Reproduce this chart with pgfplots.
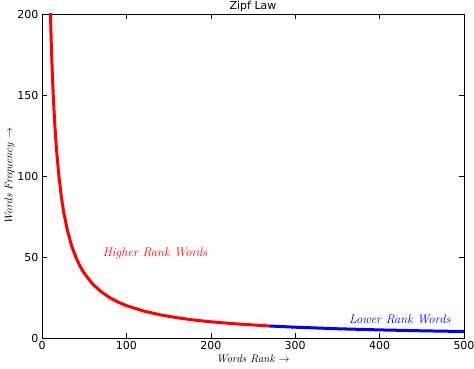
\documentclass[border=0pt]{standalone}
\usepackage{pgfplots}
\pgfplotsset{compat=1.18}
\usepackage{fontspec}
\setmainfont{DejaVu Sans}
\newfontfamily\serifit{Latin Modern Roman}
\begin{document}
\begin{tikzpicture}
\begin{axis}[name=ax,
  scale only axis, width=422pt, height=324pt,
  xmin=0, xmax=500, ymin=0, ymax=200,
  xtick={0,100,200,300,400,500},
  ytick={0,50,100,150,200},
  tick align=inside, tick pos=both,
  major tick length=5pt,
  tick style={black, line width=0.6pt},
  axis line style={black, line width=0.9pt},
  /pgf/number format/assume math mode=true,
  ticklabel style={font=\fontsize{11}{12}\selectfont},
  title={Zipf Law},
  title style={font=\fontsize{11}{12}\selectfont, yshift=-7pt},
  xlabel={\serifit\itshape Words Rank $\rightarrow$},
  ylabel={\serifit\itshape Words Frequency $\rightarrow$},
  xlabel style={font=\fontsize{11}{12}\selectfont, yshift=2pt},
  ylabel style={font=\fontsize{11}{12}\selectfont, yshift=-4pt},
  clip=true,
]
\addplot[red, line width=3pt] coordinates {
(9.6,208) (10,200) (11,181.8) (12,166.7) (13,153.8) (14,142.9) (15,133.3) (17,117.6)
(20,100) (23,87.0) (26,76.9) (30,66.7) (35,57.1) (40,50) (45,44.4) (50,40)
(60,33.3) (70,28.6) (80,25) (90,22.2) (100,20) (120,16.7) (140,14.3) (160,12.5)
(180,11.1) (200,10) (230,8.7) (270,7.4)
};
\addplot[blue, line width=3pt] coordinates {
(270,7.4) (300,6.67) (350,5.71) (400,5) (450,4.44) (500,4)
};
\node[red, font=\serifit\itshape\fontsize{12.5}{13}\selectfont] at (axis cs:134,52) {Higher Rank Words};
\node[blue, font=\serifit\itshape\fontsize{12.5}{13}\selectfont] at (axis cs:424,11.5) {Lower Rank Words};
\end{axis}
\pgfresetboundingbox
\path[use as bounding box] ([shift={(-42pt,-31pt)}]ax.south west) rectangle ([shift={(10pt,14pt)}]ax.north east);
\end{tikzpicture}
\end{document}
